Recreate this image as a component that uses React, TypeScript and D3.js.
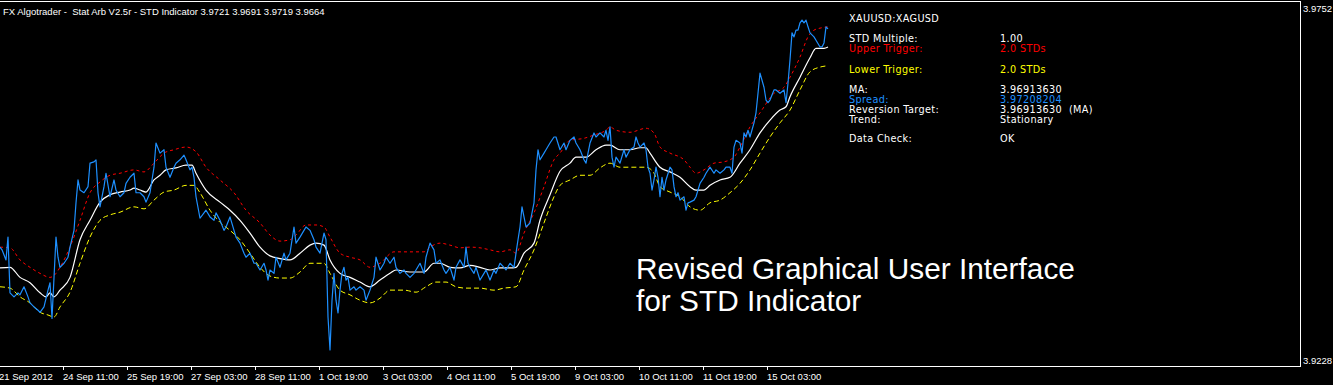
import * as d3 from 'd3';

type Pt = [number, number];

// hourly bars, [bar index, price]
const spread: Pt[] = [
  [0, 3.9396], [1, 3.9392], [3, 3.9377], [4, 3.9411], [5, 3.9328], [7, 3.9322], [9, 3.9328], [10, 3.9325],
  [12, 3.9337], [14, 3.9322], [15, 3.9313], [17, 3.9307], [19, 3.9302], [20, 3.9299], [22, 3.9307], [24, 3.9332],
  [25, 3.9343], [26, 3.929], [28, 3.9411], [29, 3.9381], [30, 3.9366], [32, 3.9372], [34, 3.9381], [35, 3.9396],
  [37, 3.9421], [38, 3.9462], [39, 3.9496], [40, 3.9481], [42, 3.9477], [44, 3.9486], [45, 3.9521], [47, 3.9523],
  [48, 3.9526], [49, 3.9477], [50, 3.9456], [52, 3.9486], [53, 3.9506], [55, 3.9471], [57, 3.9496], [58, 3.9481],
  [60, 3.9471], [62, 3.9477], [63, 3.9491], [65, 3.95], [67, 3.9506], [68, 3.9477], [70, 3.9477], [72, 3.9471],
  [73, 3.9463], [75, 3.9477], [77, 3.9515], [78, 3.9551], [80, 3.9536], [82, 3.9541], [83, 3.9515], [85, 3.95],
  [87, 3.9515], [88, 3.9521], [90, 3.9526], [92, 3.9533], [93, 3.9526], [95, 3.9511], [96, 3.9515], [97, 3.95],
  [98, 3.9471], [100, 3.9439], [102, 3.9447], [103, 3.9451], [105, 3.9441], [107, 3.9436], [108, 3.9447], [110, 3.9436],
  [112, 3.9421], [113, 3.9426], [115, 3.9441], [117, 3.9421], [118, 3.9411], [120, 3.9402], [122, 3.9387], [123, 3.9381],
  [125, 3.9387], [127, 3.9372], [128, 3.9372], [130, 3.9362], [132, 3.9372], [133, 3.9362], [134, 3.9347], [135, 3.9362],
  [137, 3.9357], [138, 3.9381], [140, 3.9366], [142, 3.9387], [143, 3.9377], [145, 3.9387], [147, 3.9426], [148, 3.9402],
  [150, 3.9411], [152, 3.9421], [153, 3.9426], [155, 3.9421], [157, 3.9407], [158, 3.9396], [160, 3.9387], [162, 3.9417],
  [163, 3.9407], [164, 3.9292], [165, 3.9243], [166, 3.9317], [167, 3.9357], [168, 3.9317], [169, 3.9298], [170, 3.9332],
  [171, 3.9357], [172, 3.9366], [173, 3.9347], [174, 3.9351], [175, 3.9332], [177, 3.9337], [178, 3.9332], [180, 3.9337],
  [182, 3.9332], [183, 3.9317], [185, 3.9332], [187, 3.9351], [188, 3.9381], [190, 3.9362], [192, 3.9372], [193, 3.9381],
  [195, 3.9372], [197, 3.9381], [198, 3.9366], [200, 3.9357], [202, 3.9362], [203, 3.9357], [205, 3.9351], [207, 3.9357],
  [208, 3.9362], [210, 3.9372], [212, 3.9357], [213, 3.9381], [215, 3.9402], [217, 3.9392], [218, 3.9372], [220, 3.9377],
  [222, 3.9362], [223, 3.9357], [225, 3.9366], [227, 3.9347], [228, 3.9366], [230, 3.9377], [232, 3.9366], [233, 3.9396],
  [234, 3.9372], [235, 3.9366], [237, 3.9357], [238, 3.9366], [240, 3.9347], [242, 3.9357], [243, 3.9362], [245, 3.9347],
  [247, 3.9362], [248, 3.9357], [250, 3.9372], [252, 3.9366], [253, 3.9362], [255, 3.9372], [257, 3.9366], [258, 3.9387],
  [259, 3.9407], [260, 3.9426], [261, 3.9456], [262, 3.9441], [263, 3.9426], [265, 3.9432], [267, 3.9462], [268, 3.9511],
  [269, 3.9541], [270, 3.9526], [272, 3.9536], [273, 3.9541], [275, 3.9551], [277, 3.956], [278, 3.956], [280, 3.9541],
  [282, 3.9551], [283, 3.9541], [285, 3.9555], [287, 3.956], [288, 3.9551], [290, 3.9541], [292, 3.9526], [293, 3.9521],
  [295, 3.9551], [297, 3.9566], [298, 3.956], [300, 3.9566], [302, 3.956], [303, 3.957], [304, 3.9555], [305, 3.9575],
  [306, 3.953], [307, 3.9515], [308, 3.953], [310, 3.9521], [312, 3.9541], [313, 3.953], [315, 3.9541], [317, 3.9545],
  [318, 3.956], [319, 3.9551], [320, 3.9545], [322, 3.9551], [323, 3.9541], [324, 3.9515], [325, 3.9506], [326, 3.9481],
  [327, 3.9496], [328, 3.9515], [329, 3.95], [330, 3.9471], [331, 3.95], [332, 3.9481], [333, 3.9496], [335, 3.9515],
  [336, 3.9511], [337, 3.9486], [338, 3.9471], [339, 3.9477], [340, 3.9466], [342, 3.9471], [343, 3.9451], [344, 3.9462],
  [345, 3.9463], [347, 3.9466], [348, 3.9471], [350, 3.9491], [352, 3.95], [353, 3.9506], [355, 3.9515], [357, 3.9506],
  [358, 3.9511], [360, 3.9506], [362, 3.9511], [363, 3.9515], [365, 3.9515], [366, 3.9506], [367, 3.9545], [368, 3.9555],
  [370, 3.9551], [371, 3.9536], [372, 3.9566], [373, 3.956], [374, 3.957], [375, 3.956], [377, 3.9581], [378, 3.9596],
  [379, 3.9625], [380, 3.9655], [382, 3.9634], [383, 3.9615], [384, 3.9611], [385, 3.9615], [387, 3.963], [388, 3.963],
  [390, 3.9625], [392, 3.963], [393, 3.9611], [394, 3.964], [395, 3.9675], [396, 3.9715], [397, 3.9709], [398, 3.9719],
  [399, 3.9719], [400, 3.973], [401, 3.9734], [402, 3.973], [403, 3.9734], [404, 3.9724], [405, 3.9715], [407, 3.9709],
  [408, 3.9704], [410, 3.9694], [411, 3.9694], [412, 3.97], [413, 3.9724], [414, 3.9721],
];

const movingAverage: Pt[] = [
  [0, 3.9365], [5, 3.9366], [10, 3.9351], [15, 3.9343], [20, 3.9328], [23, 3.9322], [25, 3.9328], [27, 3.9322],
  [30, 3.9332], [35, 3.9351], [40, 3.9407], [45, 3.9436], [50, 3.9463], [55, 3.9474], [60, 3.9478], [65, 3.9481],
  [67, 3.9484], [70, 3.9481], [73, 3.9478], [77, 3.9496], [80, 3.9503], [83, 3.9511], [88, 3.9514], [93, 3.9518],
  [96, 3.9518], [98, 3.9506], [103, 3.9481], [110, 3.9463], [115, 3.9451], [120, 3.9436], [125, 3.9417], [130, 3.9396],
  [135, 3.9383], [140, 3.9379], [145, 3.9377], [150, 3.9387], [155, 3.9399], [158, 3.9402], [162, 3.9399], [165, 3.9377],
  [170, 3.9357], [175, 3.9351], [180, 3.9344], [185, 3.9337], [190, 3.9347], [195, 3.9357], [198, 3.9362], [205, 3.9359],
  [212, 3.9359], [217, 3.9372], [220, 3.9372], [225, 3.9366], [230, 3.9365], [235, 3.9369], [240, 3.9366], [245, 3.9362],
  [250, 3.9365], [255, 3.9365], [258, 3.9366], [262, 3.9387], [267, 3.9402], [270, 3.9436], [275, 3.9474], [280, 3.9509],
  [285, 3.9521], [288, 3.953], [293, 3.953], [298, 3.9541], [303, 3.9548], [305, 3.9548], [310, 3.9541], [315, 3.9541],
  [320, 3.9544], [323, 3.9544], [325, 3.9536], [330, 3.9515], [335, 3.9508], [340, 3.95], [345, 3.9486], [348, 3.9481],
  [352, 3.9481], [355, 3.9488], [360, 3.9496], [365, 3.95], [370, 3.9521], [375, 3.9541], [380, 3.9566], [385, 3.9585],
  [390, 3.96], [393, 3.9605], [395, 3.962], [400, 3.9649], [405, 3.9678], [408, 3.9692], [412, 3.9692], [414, 3.9694],
];

const upperTrigger: Pt[] = [
  [0, 3.9396], [5, 3.9395], [10, 3.9377], [15, 3.9366], [20, 3.9357], [25, 3.9351], [28, 3.9357], [30, 3.9366],
  [35, 3.9396], [40, 3.9436], [45, 3.9477], [50, 3.9493], [55, 3.9503], [60, 3.9506], [67, 3.9511], [72, 3.9508],
  [77, 3.9521], [82, 3.9536], [87, 3.9541], [93, 3.9545], [98, 3.9538], [103, 3.9515], [110, 3.9496], [117, 3.9477],
  [123, 3.9451], [130, 3.9432], [135, 3.9414], [140, 3.9405], [145, 3.9407], [148, 3.9414], [153, 3.9429], [158, 3.9429],
  [162, 3.9426], [165, 3.9411], [170, 3.9387], [175, 3.9381], [180, 3.9377], [185, 3.9366], [190, 3.9372], [197, 3.9389],
  [205, 3.9389], [212, 3.9389], [215, 3.9396], [220, 3.9402], [225, 3.9399], [230, 3.9395], [235, 3.9396], [240, 3.9395],
  [245, 3.9392], [250, 3.9389], [255, 3.9392], [258, 3.9387], [262, 3.9417], [267, 3.9447], [272, 3.9486], [277, 3.9526],
  [280, 3.9536], [285, 3.9555], [292, 3.9558], [297, 3.9563], [303, 3.957], [305, 3.9575], [308, 3.957], [315, 3.9567],
  [323, 3.9573], [327, 3.9566], [330, 3.9545], [335, 3.9536], [342, 3.9526], [345, 3.9515], [348, 3.9506], [352, 3.9511],
  [357, 3.9521], [362, 3.9523], [367, 3.953], [370, 3.9545], [375, 3.9575], [380, 3.9596], [387, 3.9625], [392, 3.9634],
  [395, 3.9649], [400, 3.9679], [404, 3.9709], [407, 3.9719], [410, 3.9722], [414, 3.9724],
];

const lowerTrigger: Pt[] = [
  [0, 3.9337], [5, 3.9335], [10, 3.9322], [15, 3.9313], [20, 3.9299], [24, 3.9295], [27, 3.9292], [30, 3.9307],
  [35, 3.9329], [40, 3.9372], [45, 3.9411], [50, 3.9436], [55, 3.9444], [60, 3.9448], [67, 3.9456], [72, 3.9453],
  [77, 3.9466], [82, 3.9478], [87, 3.9481], [93, 3.9488], [97, 3.9488], [100, 3.9477], [105, 3.9451], [110, 3.9433],
  [115, 3.9421], [120, 3.9407], [125, 3.9387], [130, 3.9366], [135, 3.9353], [140, 3.935], [145, 3.935], [150, 3.9359],
  [155, 3.9372], [162, 3.9372], [165, 3.9357], [170, 3.9332], [175, 3.9325], [180, 3.9317], [185, 3.9313], [190, 3.932],
  [195, 3.9332], [202, 3.9332], [208, 3.9329], [213, 3.9337], [218, 3.9344], [223, 3.9344], [228, 3.9337], [233, 3.9335],
  [240, 3.9335], [247, 3.9332], [252, 3.9335], [258, 3.9337], [262, 3.9362], [267, 3.9392], [272, 3.9432], [277, 3.9471],
  [280, 3.9488], [285, 3.9496], [290, 3.9503], [295, 3.9503], [300, 3.9514], [305, 3.9521], [310, 3.9515], [317, 3.9515],
  [323, 3.9515], [327, 3.9506], [330, 3.9486], [335, 3.9478], [340, 3.9471], [345, 3.9456], [350, 3.9451], [355, 3.9462],
  [360, 3.9466], [365, 3.9477], [370, 3.9491], [375, 3.9511], [380, 3.9536], [385, 3.956], [390, 3.9581], [395, 3.96],
  [400, 3.963], [405, 3.9657], [410, 3.9664], [414, 3.9666],
];

const timeTickBars = [0, 32, 64, 96, 128, 160, 192, 224, 256, 288, 320, 352, 384];
const timeTickLabels = [
  '21 Sep 2012', '24 Sep 11:00', '25 Sep 19:00', '27 Sep 03:00', '28 Sep 11:00', '1 Oct 19:00', '3 Oct 03:00',
  '4 Oct 11:00', '5 Oct 19:00', '9 Oct 03:00', '10 Oct 11:00', '11 Oct 19:00', '15 Oct 03:00',
];
const priceTicks = [3.9752, 3.9228];

const title = 'FX Algotrader -  Stat Arb V2.5r - STD Indicator 3.9721 3.9691 3.9719 3.9664';
const pairName = 'XAUUSD:XAGUSD';
const infoLabels = ['STD Multiple:', 'Upper Trigger:', 'Lower Trigger:', 'MA:', 'Spread:', 'Reversion Target:', 'Trend:', 'Data Check:'];
const infoValues = ['1.00', '2.0 STDs', '2.0 STDs', '3.96913630', '3.97208204', '3.96913630  (MA)', 'Stationary', 'OK'];
const overlayLines = ['Revised Graphical User Interface', 'for STD Indicator'];

const W = 1333;
const H = 385;
const PLOT_RIGHT = 1300;
const PLOT_BOTTOM = 366;
const SMALL_FONT = '"Liberation Sans", Arial, sans-serif';
const PANEL_FONT = '"DejaVu Sans", Verdana, sans-serif';
const infoRowY = [38, 48, 69, 89, 99, 109, 119, 138];
const infoColors = ['#fff', '#ff0000', '#ffff00', '#fff', '#1e90ff', '#fff', '#fff', '#fff'];

export default function App() {
  const xScale = d3.scaleLinear().domain([0, 414]).range([0, 828]);
  const yScale = d3.scaleLinear().domain([priceTicks[1], priceTicks[0]]).range([360, 8]);
  const rough = d3.line<Pt>().x((d) => xScale(d[0])).y((d) => yScale(d[1]));
  const smooth = d3.line<Pt>().x((d) => xScale(d[0])).y((d) => yScale(d[1])).curve(d3.curveMonotoneX);

  return (
    <svg width={W} height={H} style={{ position: 'absolute', left: 0, top: 0, display: 'block' }}>
      <rect width={W} height={H} fill="#000" />
      {/* frame */}
      <line x1={0} x2={PLOT_RIGHT} y1={1.5} y2={1.5} stroke="#fff" />
      <line x1={PLOT_RIGHT + 0.5} x2={PLOT_RIGHT + 0.5} y1={1} y2={PLOT_BOTTOM} stroke="#fff" />
      <line x1={0} x2={PLOT_RIGHT + 1} y1={PLOT_BOTTOM + 0.5} y2={PLOT_BOTTOM + 0.5} stroke="#fff" />

      <path d={smooth(upperTrigger) ?? undefined} fill="none" stroke="#ff0000" strokeWidth={1} strokeDasharray="3,3" />
      <path d={smooth(lowerTrigger) ?? undefined} fill="none" stroke="#ffff00" strokeWidth={1} strokeDasharray="5,3" />
      <path d={smooth(movingAverage) ?? undefined} fill="none" stroke="#fff" strokeWidth={1.2} />
      <path d={rough(spread) ?? undefined} fill="none" stroke="#1e90ff" strokeWidth={1.2} strokeLinejoin="round" />

      <text x={3} y={15} fill="#fff" fontFamily={SMALL_FONT} fontSize={9.5} style={{ whiteSpace: 'pre' }}>{title}</text>

      {/* info panel */}
      <g fontFamily={PANEL_FONT} fontSize={9.7} letterSpacing={0.35}>
        <text x={849} y={21.5} fill="#fff">{pairName}</text>
        {infoLabels.map((label, i) => (
          <g key={label} fill={infoColors[i]}>
            <text x={849} y={infoRowY[i] + 3.5}>{label}</text>
            <text x={1000} y={infoRowY[i] + 3.5} style={{ whiteSpace: 'pre' }}>{infoValues[i]}</text>
          </g>
        ))}
      </g>

      {/* overlay caption */}
      <g fontFamily={SMALL_FONT} fontSize={29.8} fill="#fff">
        {overlayLines.map((line, i) => (
          <text key={line} x={636} y={279 + i * 32}>{line}</text>
        ))}
      </g>

      {/* time axis */}
      {timeTickBars.map((bar, i) => {
        const x = Math.round(xScale(bar)) - 1;
        return (
          <g key={bar}>
            <line x1={x + 0.5} x2={x + 0.5} y1={PLOT_BOTTOM} y2={PLOT_BOTTOM + 4} stroke="#fff" />
            <text x={x} y={380} fill="#fff" fontFamily={SMALL_FONT} fontSize={9.5}>{timeTickLabels[i]}</text>
          </g>
        );
      })}

      {/* price axis */}
      {priceTicks.map((p) => (
        <text key={p} x={PLOT_RIGHT + 3} y={yScale(p) + 3.5} fill="#fff" fontFamily={SMALL_FONT} fontSize={9.5}>{p.toFixed(4)}</text>
      ))}
    </svg>
  );
}
